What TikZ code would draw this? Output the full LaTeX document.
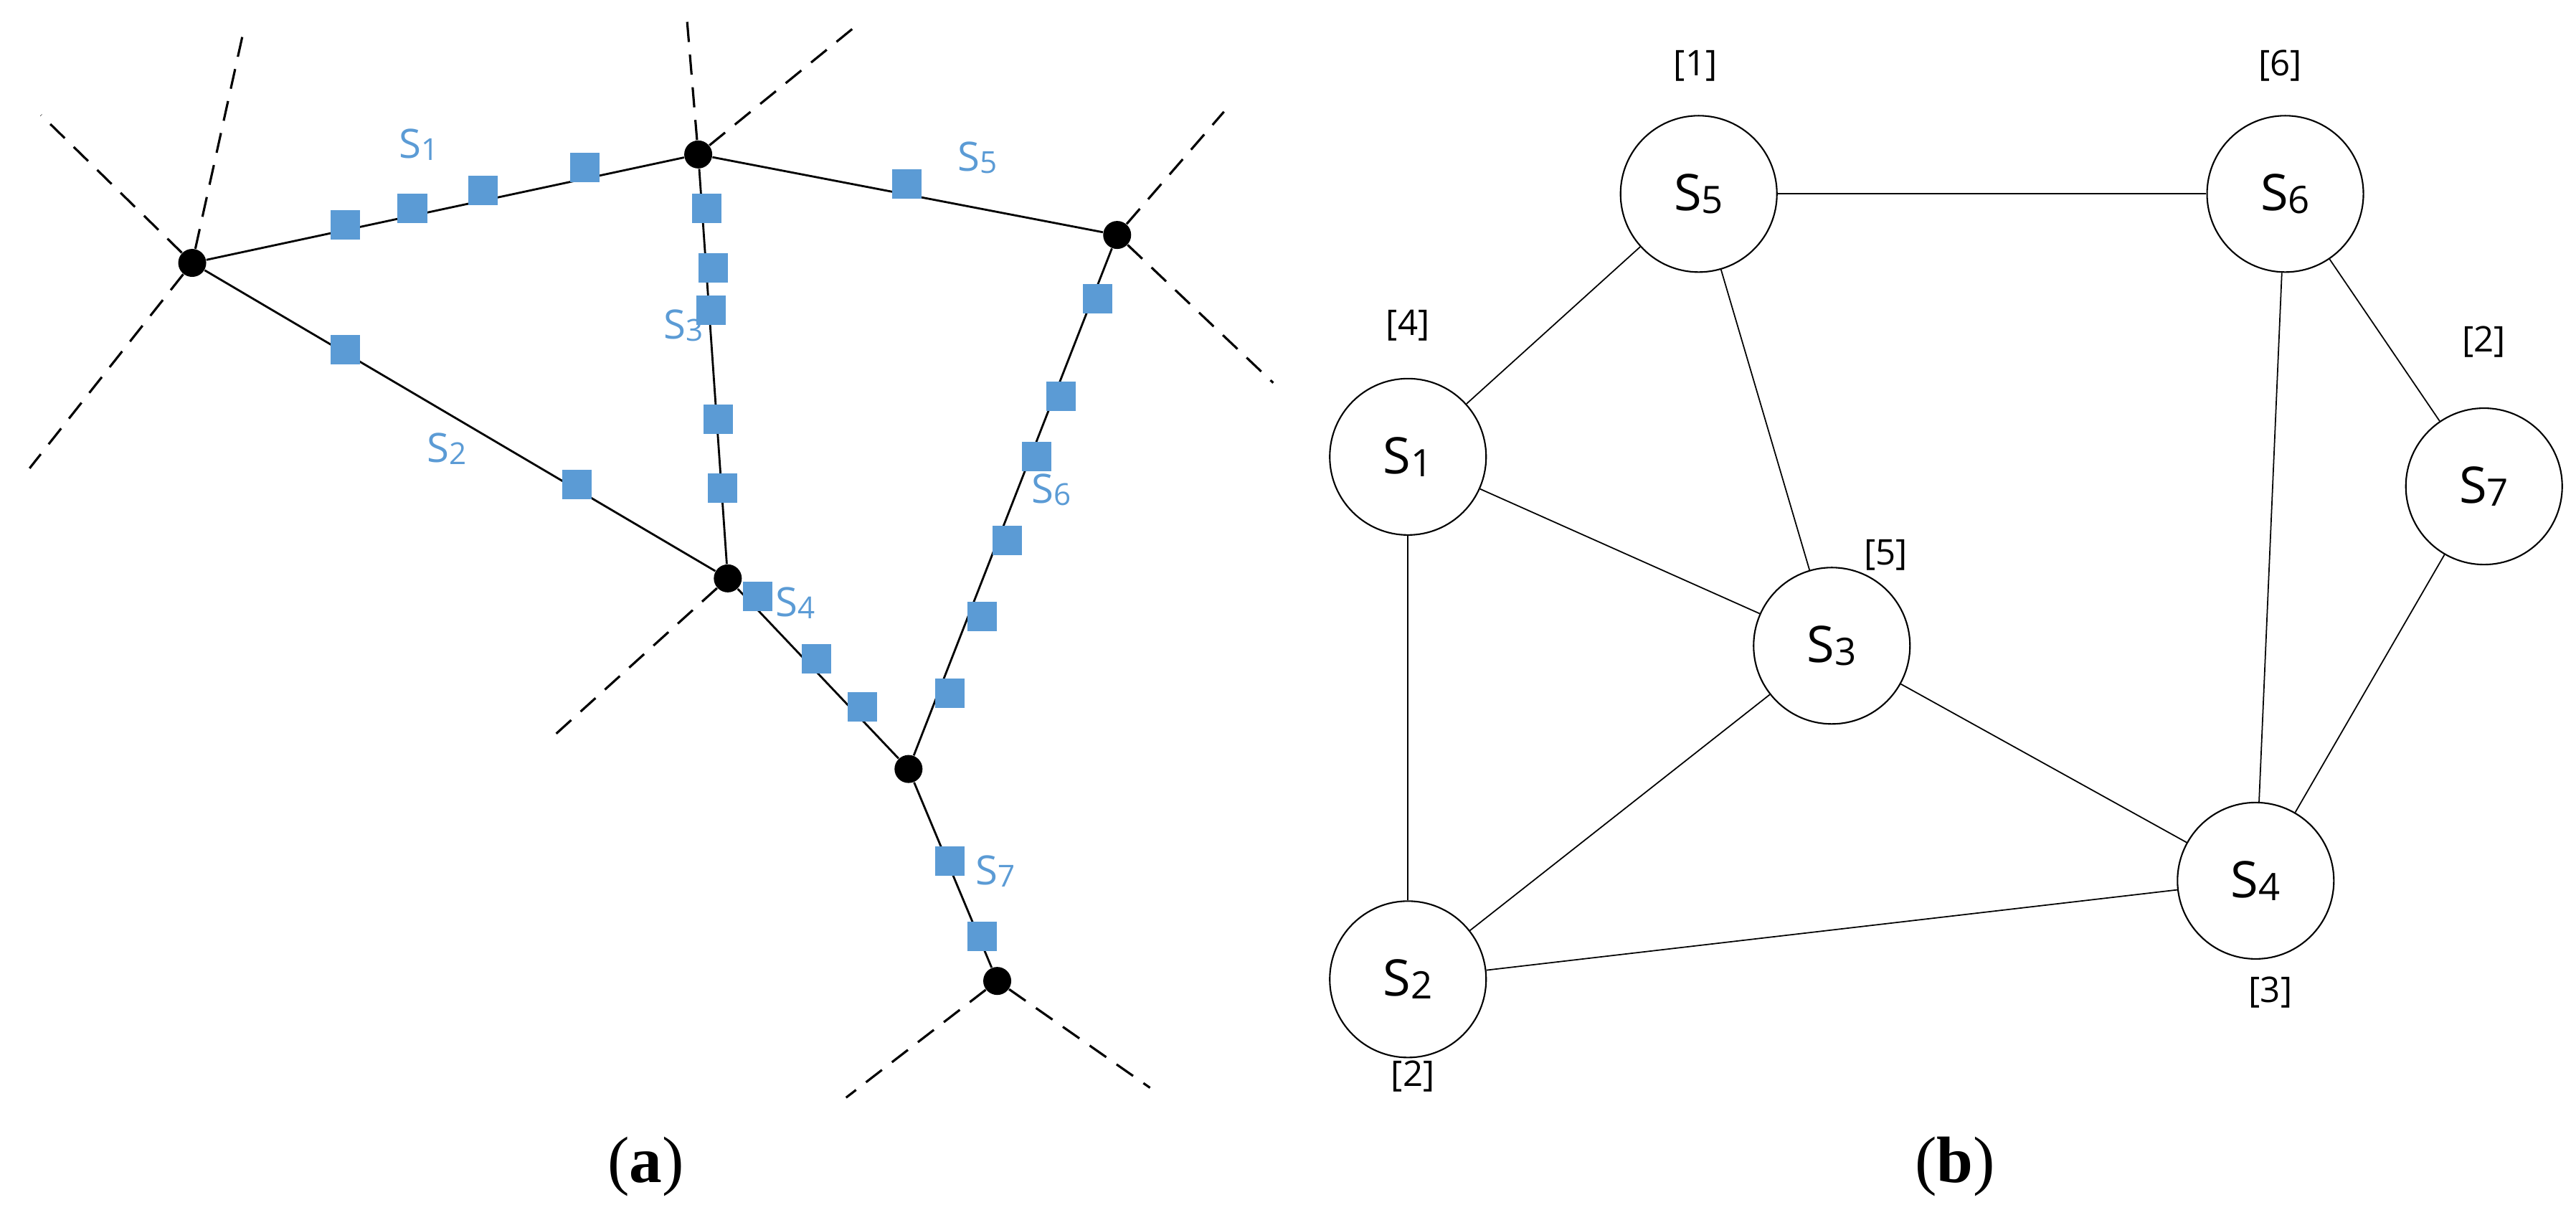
\documentclass[tikz,border=0pt]{standalone}
\usepackage{fontspec}
\setmainfont{Liberation Serif}
\newfontfamily\lbl{Open Sans}
\usetikzlibrary{positioning}
\definecolor{sqblue}{RGB}{91,155,213}
\tikzset{
  junc/.style={circle,fill=black,inner sep=0pt,minimum size=0.39cm},
  sq/.style={rectangle,fill=sqblue,inner sep=0pt,minimum size=0.41cm},
  seg/.style={line width=0.8pt},
  ray/.style={line width=0.9pt,dashed,dash pattern=on 8pt off 5pt},
  slbl/.style={text=sqblue,font=\lbl\fontsize{16}{18}\selectfont},
  site/.style={circle,draw,line width=0.6pt,minimum size=2.18cm,inner sep=0pt,font=\lbl\fontsize{20}{22}\selectfont},
  rank/.style={font=\lbl\fontsize{14}{16}\selectfont},
  subcap/.style={font=\fontsize{26}{28}\selectfont}
}
\newcommand{\sn}[1]{S\raisebox{-0.1ex}{\fontsize{0.75em}{1em}\selectfont #1}}
\begin{document}
\begin{tikzpicture}[x=0.0229cm,y=-0.0229cm]
\useasboundingbox (0,0) rectangle (1568,733);
% (a) road network
\node[junc] (A) at (117,160) {};
\node[junc] (B) at (425,94) {};
\node[junc] (C) at (680,143) {};
\node[junc] (D) at (443,352) {};
\node[junc] (E) at (553,468) {};
\node[junc] (F) at (607,597) {};
\draw[seg] (A) -- (B) -- (C);
\draw[seg] (A) -- (D) -- (E) -- (F);
\draw[seg] (B) -- (D);
\draw[seg] (C) -- (E);
\foreach \p in {(148,20),(25,70),(18,285)} \draw[ray] (A) -- \p;
\foreach \p in {(418,10),(522,15)} \draw[ray] (B) -- \p;
\foreach \p in {(745,68),(775,233)} \draw[ray] (C) -- \p;
\draw[ray] (D) -- (338,447);
\foreach \p in {(515,668),(700,662)} \draw[ray] (F) -- \p;
\foreach \p in {(210,137),(251,127),(294,116),(356,102),(552,112),
  (210,213),(351,295),(430,127),(434,163),(433,189),(437,255),(440,297),
  (461,363),(497,401),(525,430),(668,182),(646,241),(631,278),(613,329),
  (598,375),(578,422),(578,524),(598,570)}
  \node[sq] at \p {};
\node[slbl] at (255,88) {\sn1};
\node[slbl] at (272,273) {\sn2};
\node[slbl] at (416,198) {\sn3};
\node[slbl] at (484,367) {\sn4};
\node[slbl] at (595,96) {\sn5};
\node[slbl] at (640,298) {\sn6};
\node[slbl] at (606,530) {\sn7};
% (b) graph
\node[site] (s5) at (1034,118) {\sn5};
\node[site] (s6) at (1391,118) {\sn6};
\node[site] (s1) at (857,278) {\sn1};
\node[site] (s7) at (1512,296) {\sn7};
\node[site] (s3) at (1115,393) {\sn3};
\node[site] (s4) at (1373,536) {\sn4};
\node[site] (s2) at (857,596) {\sn2};
\foreach \a/\b in {s5/s6,s5/s1,s5/s3,s6/s4,s6/s7,s1/s3,s1/s2,s3/s2,s3/s4,s2/s4,s7/s4}
  \draw[line width=0.5pt] (\a) -- (\b);
\node[rank] at (1032,40) {[1]};
\node[rank] at (1388,40) {[6]};
\node[rank] at (857,198) {[4]};
\node[rank] at (1512,208) {[2]};
\node[rank] at (1148,338) {[5]};
\node[rank] at (1382,604) {[3]};
\node[rank] at (860,655) {[2]};
\node[subcap] at (393,710) {(\textbf{a})};
\node[subcap] at (1190,710) {(\textbf{b})};
\end{tikzpicture}
\end{document}
